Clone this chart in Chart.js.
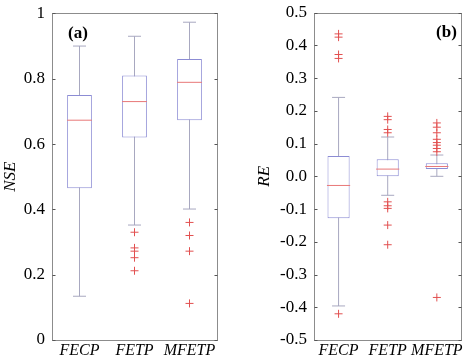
<!DOCTYPE html>
<html>
<head>
<meta charset="utf-8">
<script src="https://cdn.jsdelivr.net/npm/chart.js@4/dist/chart.umd.min.js"></script>
<style>
  html, body { margin: 0; padding: 0; background: #fff; }
  #wrap { position: relative; width: 474px; height: 356px; overflow: hidden; }
  .panel { position: absolute; top: 0; width: 237px; height: 356px; }
  .fontprobe { position: absolute; left: -1000px; top: 0; font-family: 'Liberation Serif'; font-size: 17px; }
</style>
</head>
<body>
<span class="fontprobe">0.8 <b>(a)</b> <i>FECP</i></span>
<div id="wrap">
  <div class="panel" style="left:0"><canvas id="c1" width="237" height="356"></canvas></div>
  <div class="panel" style="left:237px"><canvas id="c2" width="237" height="356"></canvas></div>
</div>
<script>
// ---------- data ----------
const categories = ['FECP', 'FETP', 'MFETP'];

// Panel (a): NSE
const nseMin = [0.134, 0.352, 0.401];
const nseQ1  = [0.465, 0.620, 0.673];
const nseMed = [0.673, 0.730, 0.789];
const nseQ3  = [0.750, 0.810, 0.860];
const nseMax = [0.900, 0.930, 0.973];
const nseOutFECP  = [];
const nseOutFETP  = [0.330, 0.282, 0.272, 0.252, 0.212];
const nseOutMFETP = [0.360, 0.320, 0.272, 0.112];
const nseTicks = [0, 0.2, 0.4, 0.6, 0.8, 1];
const nseTickLabels = ['0', '0.2', '0.4', '0.6', '0.8', '1'];

// Panel (b): RE
const reMin = [-0.396, -0.058, 0.000];
const reQ1  = [-0.128,  0.000, 0.022];
const reMed = [-0.028,  0.022, 0.030];
const reQ3  = [ 0.062,  0.052, 0.040];
const reMax = [ 0.241,  0.120, 0.065];
const reOutFECP  = [0.435, 0.425, 0.372, 0.360, -0.420];
const reOutFETP  = [0.183, 0.173, 0.143, 0.133, -0.078, -0.090, -0.098, -0.149, -0.209];
const reOutMFETP = [0.163, 0.150, 0.133, 0.113, 0.103, 0.095, 0.085, 0.075, -0.370];
const reTicks = [-0.5, -0.4, -0.3, -0.2, -0.1, 0, 0.1, 0.2, 0.3, 0.4, 0.5];
const reTickLabels = ['-0.5', '-0.4', '-0.3', '-0.2', '-0.1', '0.0', '0.1', '0.2', '0.3', '0.4', '0.5'];

// ---------- styles ----------
const BOX_COLOR = '#8c8cd4';
const WHISKER_COLOR = '#a8a8c0';
const MEDIAN_COLOR = '#e87878';
const OUTLIER_COLOR = '#e25050';
const FRAME_COLOR = '#8c8c8c';
const SERIF = "'Liberation Serif', 'Times New Roman', Times, serif";

const framePlugin = {
  id: 'frame',
  afterDraw(chart, args, opts) {
    const { ctx, chartArea } = chart;
    const l = Math.round(chartArea.left) + 0.5;
    const r = Math.round(chartArea.right) + 0.5;
    const t = Math.round(chartArea.top) + 0.5;
    const b = Math.round(chartArea.bottom) + 0.5;
    ctx.save();
    ctx.strokeStyle = FRAME_COLOR;
    ctx.lineWidth = 1;
    ctx.strokeRect(l, t, r - l, b - t);
    const ys = chart.scales.y;
    ctx.strokeStyle = '#555';
    ys.ticks.forEach(tk => {
      const y = Math.round(ys.getPixelForValue(tk.value)) + 0.5;
      ctx.beginPath();
      ctx.moveTo(l, y); ctx.lineTo(l + 3, y);
      ctx.moveTo(r - 3, y); ctx.lineTo(r, y);
      ctx.stroke();
    });
    ctx.fillStyle = '#000';
    ctx.font = 'bold 17px ' + SERIF;
    ctx.textAlign = 'center';
    ctx.textBaseline = 'middle';
    const x = opts.side === 'left' ? chartArea.left + opts.dx : chartArea.right - opts.dx;
    ctx.fillText(opts.text, x, chartArea.top + opts.dy);
    ctx.restore();
  }
};

function outlierPoints(cat, arr) {
  return arr.map(v => ({ x: cat, y: v }));
}

function makeChart(canvasId, cfg) {
  const datasets = [
    {
      type: 'bar', data: cfg.min.map((v, i) => [v, cfg.max[i]]),
      backgroundColor: WHISKER_COLOR, borderWidth: 0, inflateAmount: 0,
      barThickness: 1, grouped: false, order: 5
    },
    {
      type: 'bar', data: cfg.q1.map((v, i) => [v, cfg.q3[i]]),
      backgroundColor: '#ffffff', borderColor: BOX_COLOR, borderWidth: 1, inflateAmount: 0,
      borderSkipped: false, barPercentage: 0.45, categoryPercentage: 1,
      grouped: false, order: 4
    },
    {
      type: 'line', data: cfg.med, showLine: false,
      pointStyle: 'line', pointRadius: cfg.medRadius, pointHoverRadius: cfg.medRadius,
      pointBorderColor: MEDIAN_COLOR, pointBorderWidth: 1, order: 2
    },
    {
      type: 'line', data: cfg.max, showLine: false,
      pointStyle: 'line', pointRadius: 6.5, pointHoverRadius: 6.5,
      pointBorderColor: WHISKER_COLOR, pointBorderWidth: 1, order: 3
    },
    {
      type: 'line', data: cfg.min, showLine: false,
      pointStyle: 'line', pointRadius: 6.5, pointHoverRadius: 6.5,
      pointBorderColor: WHISKER_COLOR, pointBorderWidth: 1, order: 3
    },
    {
      type: 'line', showLine: false,
      data: [].concat(
        outlierPoints(categories[0], cfg.out[0]),
        outlierPoints(categories[1], cfg.out[1]),
        outlierPoints(categories[2], cfg.out[2])
      ),
      pointStyle: 'cross', pointRadius: 4, pointHoverRadius: 4,
      pointBorderColor: OUTLIER_COLOR, pointBorderWidth: 1, order: 1
    }
  ];

  return new Chart(document.getElementById(canvasId), {
    type: 'bar',
    data: { labels: categories, datasets },
    options: {
      responsive: false,
      animation: false,
      devicePixelRatio: 1,
      events: [],
      layout: { padding: { top: 7, right: cfg.padRight, left: 0, bottom: 0 } },
      plugins: {
        legend: { display: false },
        tooltip: { enabled: false },
        frame: cfg.tag
      },
      scales: {
        x: {
          type: 'category', offset: true,
          grid: { display: false }, border: { display: false },
          ticks: {
            color: '#000', padding: -7, maxRotation: 0, autoSkip: false,
            font: { family: SERIF, size: 16, style: 'italic' }
          },
          afterFit(s) { s.height = 16; s.paddingLeft = 0; s.paddingRight = 0; }
        },
        y: {
          type: 'linear', min: cfg.ticks[0], max: cfg.ticks[cfg.ticks.length - 1],
          grid: { display: false, drawTicks: false }, border: { display: false },
          afterBuildTicks(s) { s.ticks = cfg.ticks.map(v => ({ value: v })); },
          ticks: {
            color: '#000', padding: 7,
            font: { family: SERIF, size: 17 },
            callback: (v) => {
              const i = cfg.ticks.findIndex(t => Math.abs(t - v) < 1e-9);
              return i >= 0 ? cfg.tickLabels[i] : '';
            }
          },
          title: {
            display: true, text: cfg.title, color: '#000',
            font: { family: SERIF, size: 17, style: 'italic' },
            padding: { top: cfg.titlePad, bottom: 0 }
          },
          afterFit(s) { s.width = cfg.axisWidth; s.paddingTop = 0; s.paddingBottom = 0; }
        }
      }
    },
    plugins: [framePlugin]
  });
}

function build() {
  makeChart('c1', {
    min: nseMin, q1: nseQ1, med: nseMed, q3: nseQ3, max: nseMax,
    out: [nseOutFECP, nseOutFETP, nseOutMFETP],
    ticks: nseTicks, tickLabels: nseTickLabels, title: 'NSE',
    axisWidth: 52, padRight: 20, titlePad: 0, medRadius: 12.4,
    tag: { text: '(a)', side: 'left', dx: 26, dy: 20 }
  });
  makeChart('c2', {
    min: reMin, q1: reQ1, med: reMed, q3: reQ3, max: reMax,
    out: [reOutFECP, reOutFETP, reOutMFETP],
    ticks: reTicks, tickLabels: reTickLabels, title: 'RE',
    axisWidth: 77, padRight: 5, titlePad: 17, medRadius: 11.6,
    tag: { text: '(b)', side: 'right', dx: 15, dy: 20 }
  });
}

if (document.fonts && document.fonts.load) {
  Promise.all([
    document.fonts.load("17px 'Liberation Serif'"),
    document.fonts.load("italic 17px 'Liberation Serif'"),
    document.fonts.load("bold 17px 'Liberation Serif'")
  ]).then(build, build);
} else {
  build();
}
</script>
</body>
</html>
